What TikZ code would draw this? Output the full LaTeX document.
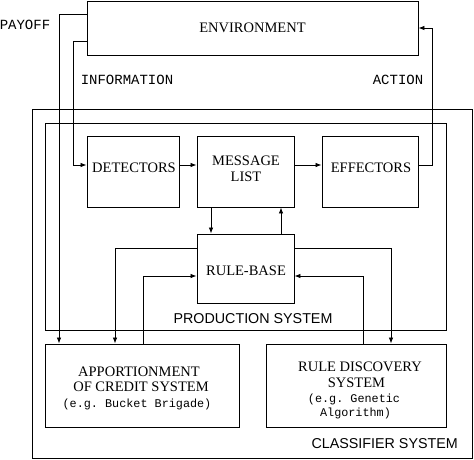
\documentclass[tikz,border=0pt]{standalone}
\usepackage{fontspec}
\setmainfont{Liberation Serif}
\setsansfont{Liberation Sans}
\setmonofont{Liberation Mono}
\usetikzlibrary{arrows.meta}
\begin{document}
\begin{tikzpicture}[x=1pt,y=-1pt,
  box/.style={draw,line width=0.9pt,inner sep=0pt,align=center,
    font=\fontsize{14.5}{16}\selectfont},
  txt/.style={font=\fontsize{14.5}{16}\selectfont,inner sep=0pt},
  frame/.style={draw,line width=0.8pt,inner sep=0pt},
  arr/.style={line width=0.8pt,-{Latex[length=6pt,width=4.5pt]}},
  mono/.style={font=\fontsize{14}{16}\ttfamily},
  smono/.style={font=\fontsize{11.8}{14}\ttfamily},
  sans/.style={font=\fontsize{14.3}{16}\sffamily}]
\useasboundingbox[fill=white] (0,0) rectangle (474,460);
% frames
\node[frame,minimum width=440pt,minimum height=349pt] (cls) at (252,283.5) {};
\node[frame,line width=1pt,minimum width=401pt,minimum height=207pt] (prod) at (245.5,226.5) {};
% boxes
\node[box,minimum width=331pt,minimum height=54pt] (env) at (252.5,28) {ENVIRONMENT};
\node[box,minimum width=92pt,minimum height=71pt] (det) at (133,171.5) {};
\node[box,minimum width=97pt,minimum height=71pt] (msg) at (245.5,171.5) {};
\node[box,minimum width=96pt,minimum height=71pt] (eff) at (370,171.5) {};
\node[box,minimum width=97pt,minimum height=69pt] (rb) at (245.5,268.5) {};
\node[box,minimum width=194pt,minimum height=83pt] (apc) at (142,385.5) {};
\node[box,minimum width=180pt,minimum height=83pt] (rds) at (356,385.5) {};
% box texts
\node[txt] (detl) at (134,168) {DETECTORS};
\node[txt] (msg1) at (246,161) {MESSAGE};
\node[txt] (msg2) at (246,177) {LIST};
\node[txt] (effl) at (371,168) {EFFECTORS};
\node[txt] (rbl) at (246,271) {RULE-BASE};
\node[txt] (apc1) at (139,372) {APPORTIONMENT};
\node[txt] (apc2) at (141,387) {OF CREDIT SYSTEM};
\node[smono,inner sep=0pt] (apc3) at (137,404) {(e.g. Bucket Brigade)};
\node[txt] (rds1) at (360,367) {RULE DISCOVERY};
\node[txt] (rds2) at (356.5,383) {SYSTEM};
\node[smono,inner sep=0pt] (rds3) at (354,399) {(e.g. Genetic};
\node[smono,inner sep=0pt] (rds4) at (355.5,413) {Algorithm)};
% labels
\node[mono,inner sep=0pt] (pay) at (25,25) {PAYOFF};
\node[mono,inner sep=0pt] (info) at (127,80) {INFORMATION};
\node[mono,inner sep=0pt] (act) at (398,80) {ACTION};
\node[sans,inner sep=0pt] (prodl) at (253,319) {PRODUCTION SYSTEM};
\node[sans,inner sep=0pt,anchor=east] (clsl) at (458,444) {CLASSIFIER SYSTEM};
% routing coordinates
\coordinate (cpay) at (59,14);
\coordinate (cinf) at (73,41);
\coordinate (cact) at (432,28);
\coordinate (h) at (0,165);
\coordinate (d1) at (211,0);
\coordinate (u1) at (281,0);
\coordinate (la) at (115,248);
\coordinate (lb) at (143,276);
\coordinate (ra) at (391,248);
\coordinate (rbb) at (363,276);
% connectors
\draw[arr] (env.west |- cpay) -- (cpay) -- (cpay |- apc.north);
\draw[arr] (env.west |- cinf) -- (cinf) |- (det.west |- h);
\draw[arr] (eff.east |- h) -| (cact) -- (env.east |- cact);
\draw[arr] (det.east |- h) -- (msg.west |- h);
\draw[arr] (msg.east |- h) -- (eff.west |- h);
\draw[arr] (msg.south -| d1) -- (rb.north -| d1);
\draw[arr] (rb.north -| u1) -- (msg.south -| u1);
\draw[arr] (rb.west |- la) -- (la) -- (la |- apc.north);
\draw[arr] (lb |- apc.north) -- (lb) -- (rb.west |- lb);
\draw[arr] (rb.east |- ra) -- (ra) -- (ra |- rds.north);
\draw[arr] (rbb |- rds.north) -- (rbb) -- (rb.east |- rbb);
\end{tikzpicture}
\end{document}
